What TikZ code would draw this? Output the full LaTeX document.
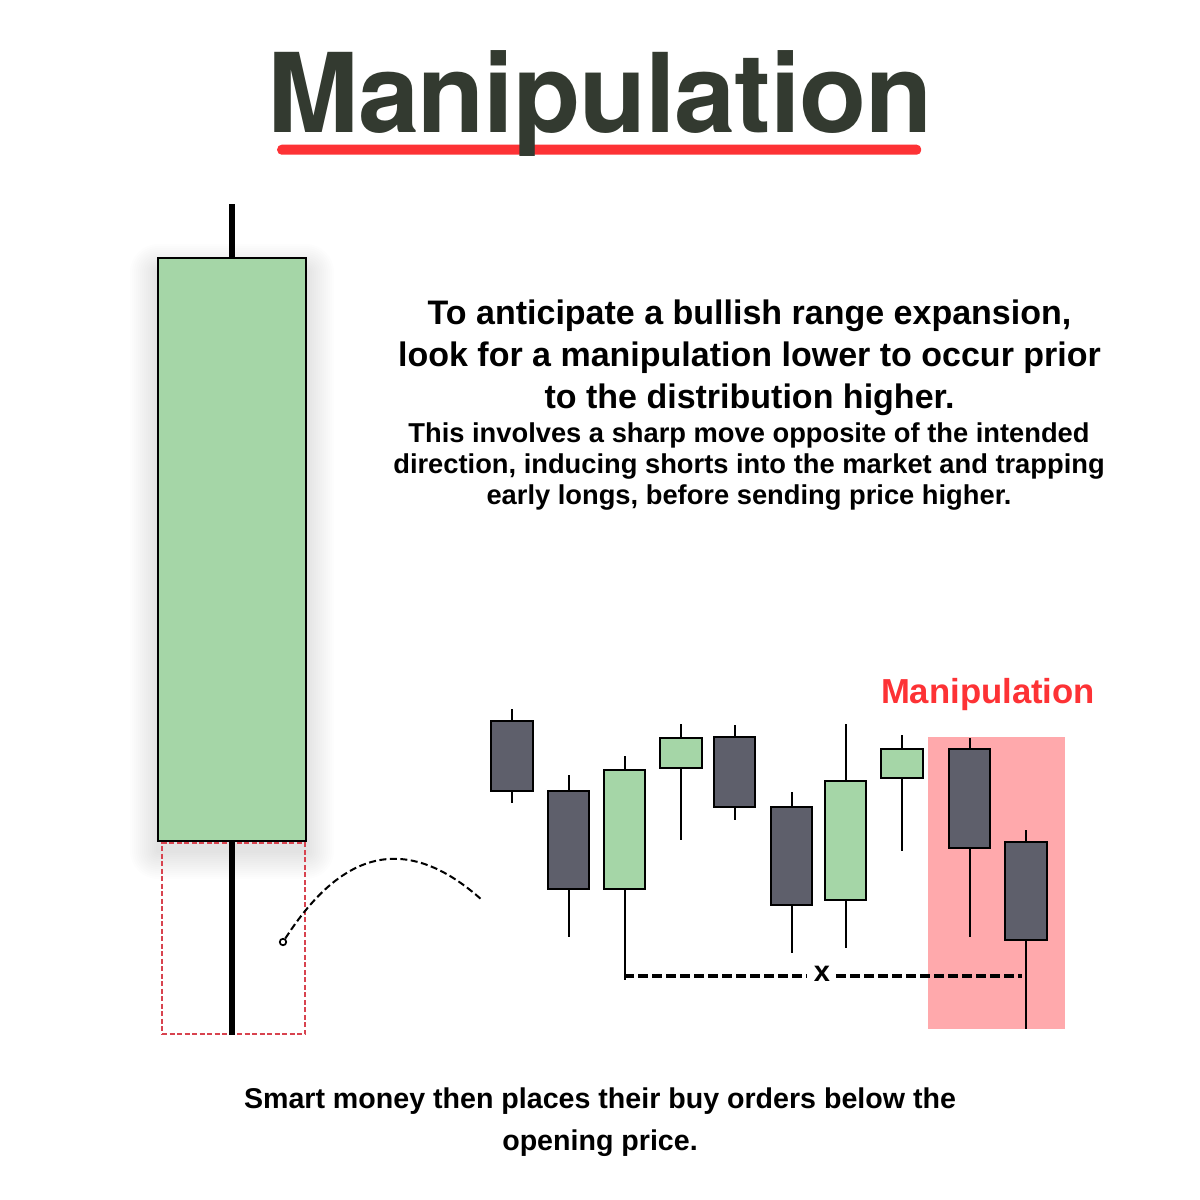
\documentclass[tikz,border=0pt]{standalone}
\usepackage{fontspec}
\setmainfont{Liberation Sans}
\newfontfamily\heros[LetterSpace=-1.1]{TeX Gyre Heros}
\definecolor{cgreen}{HTML}{A5D6A7}
\definecolor{cdark}{HTML}{5E5F6B}
\definecolor{cpink}{HTML}{FFA9AC}
\definecolor{cred}{HTML}{FD3235}
\definecolor{ctitle}{HTML}{333A30}
\definecolor{cdash}{HTML}{D8434F}
\tikzset{
  cbody/.style={draw=black,line width=2.4pt,inner sep=0pt,outer sep=0pt},
  wick/.style={black,line width=2pt},
  bigwick/.style={black,line width=6pt},
  dashline/.style={black,line width=3.2pt,dash pattern=on 10pt off 4pt},
  txt/.style={inner sep=0pt,align=center,text=black},
}
% name, left, right, wicktop, bodytop, bodybottom, wickbottom, colour
\newcommand{\candle}[8]{%
  \coordinate (#1-hi) at ({(#2+#3)/2},#4);
  \coordinate (#1-lo) at ({(#2+#3)/2},#7);
  \node[cbody,fill=#8,anchor=north west,minimum width={(#3-#2)*1pt},minimum height={(#6-#5)*1pt}] (#1) at (#2,#5) {};
  \draw[wick] (#1-hi) -- (#1.north);
  \draw[wick] (#1.south) -- (#1-lo);
}
\begin{document}
\begin{tikzpicture}[x=1pt,y=-1pt]
\useasboundingbox (0,0) rectangle (1200,1200);
\fill[white] (0,0) rectangle (1200,1200);
% title
\node[fill=cred,rounded corners=4.5pt,anchor=north west,minimum width=644pt,minimum height=10pt,inner sep=0pt] (rule) at (277,144.5) {};
\node[anchor=base,inner sep=0pt,text=ctitle,font={\heros\bfseries\fontsize{110}{110}\selectfont}] (title) at (600,132) {Manipulation};
% shadow of the big candle
\foreach \s in {28,26,...,2}{
  \fill[black,opacity=0.008,rounded corners=\s pt] (158-\s,258-\s+14) rectangle (306+\s,841+\s+10);
}
% big candle
\coordinate (bighi) at (232,204);
\coordinate (biglo) at (232,1035);
\node[draw=cdash,line width=1.8pt,dash pattern=on 5pt off 2.5pt,anchor=north west,minimum width=143pt,minimum height=191pt,inner sep=0pt,outer sep=0pt] (redbox) at (162,843) {};
\node[cbody,fill=cgreen,anchor=north west,minimum width=148pt,minimum height=583pt] (big) at (158,258) {};
\draw[bigwick] (bighi) -- (big.north);
\draw[bigwick] (big.south) -- (biglo);
% curve
\node[circle,draw=black,line width=1.7pt,fill=white,minimum size=6.5pt,inner sep=0pt] (dot) at (283,942) {};
\coordinate (curveend) at (482,900);
\draw[black,line width=2pt,dash pattern=on 7pt off 3.5pt] (dot) .. controls (332,866) and (395,822) .. (curveend);
% text
\node[txt,anchor=center,font={\bfseries\fontsize{34}{42}\selectfont}] (head) at (749.5,358) {To anticipate a bullish range expansion,\\look for a manipulation lower to occur prior\\to the distribution higher.};
\node[txt,anchor=center,font={\bfseries\fontsize{27.3}{31}\selectfont}] (sub) at (749,466) {This involves a sharp move opposite of the intended\\direction, inducing shorts into the market and trapping\\early longs, before sending price higher.};
\node[txt,anchor=center,font={\bfseries\fontsize{28.6}{42}\selectfont}] (foot) at (600,1122) {Smart money then places their buy orders below the\\opening price.};
\node[anchor=base,inner sep=0pt,text=cred,font={\bfseries\fontsize{34.7}{36}\selectfont}] (mlabel) at (988,703) {Manipulation};
% pink zone
\node[fill=cpink,anchor=north west,minimum width=137pt,minimum height=292pt,inner sep=0pt,outer sep=0pt] (zone) at (928,737) {};
% candles
\candle{c1}{491}{533}{709}{721}{791}{803}{cdark}
\candle{c2}{548}{589}{775}{791}{889}{937}{cdark}
\candle{c3}{604}{645}{756}{770}{889}{980}{cgreen}
\candle{c4}{660}{702}{724}{738}{768}{840}{cgreen}
\candle{c5}{714}{755}{725}{737}{807}{820}{cdark}
\candle{c6}{771}{812}{792}{807}{905}{953}{cdark}
\candle{c7}{825}{866}{724}{781}{900}{948}{cgreen}
\candle{c8}{881}{923}{735}{749}{778}{851}{cgreen}
\candle{c9}{949}{990}{738}{749}{848}{937}{cdark}
\candle{c10}{1005}{1047}{830}{842}{940}{1029}{cdark}
% x measure
\node[inner sep=0pt,text=black,font={\bfseries\fontsize{29}{29}\selectfont}] (xl) at (822,974) {x};
\coordinate (xleft) at (624,976);
\coordinate (xright) at (1022,976);
\coordinate (xa) at (807,976);
\coordinate (xb) at (836,976);
\draw[dashline] (xleft) -- (xa);
\draw[dashline] (xb) -- (xright);
\end{tikzpicture}
\end{document}
